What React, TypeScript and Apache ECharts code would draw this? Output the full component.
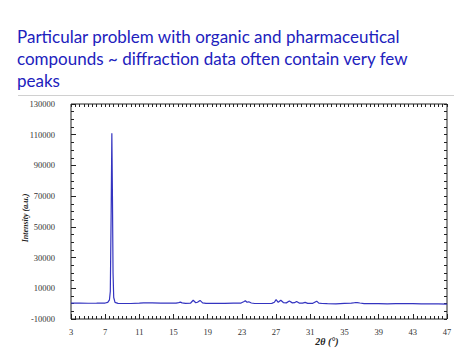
import React, { useEffect, useRef } from "react";
import * as echarts from "echarts";

const titleLines = [
  "Particular problem with organic and pharmaceutical",
  "compounds ~ diffraction data often contain very few",
  "peaks",
];

const twoTheta = [
  3, 4, 5, 6, 7, 7.3, 7.5, 7.6, 7.7, 7.78, 7.85, 7.92, 8.0, 8.15, 8.5, 9, 10, 11, 11.5, 12.5, 13.5, 14.5,
  15.3, 15.6, 15.8, 16.0, 16.4, 17.0, 17.3, 17.6, 17.8, 18.1, 18.4, 18.8, 20, 21, 22, 22.9, 23.2, 23.4,
  23.6, 23.8, 24.1, 24.5, 25.5, 26.5, 26.8, 27.0, 27.25, 27.55, 27.85, 28.2, 28.55, 28.9, 29.15, 29.4,
  29.7, 30.1, 30.4, 30.7, 31.3, 31.75, 32.0, 32.4, 33, 34, 35, 35.8, 36.2, 36.5, 36.8, 37.3, 38, 39, 40,
  41, 42, 43, 44, 45, 46, 47,
];

const intensity = [
  300, 300, 250, 300, 400, 800, 2500, 8000, 60000, 111000, 70000, 20000, 4000, 800, 200, 100, 100, 300,
  500, 500, 400, 300, 300, 700, 1000, 500, 200, 400, 2200, 600, 900, 2100, 500, 200, 200, 200, 300, 400,
  1200, 1900, 900, 1200, 400, 100, 100, 200, 900, 2600, 900, 2200, 700, 500, 1700, 500, 600, 1400, 400,
  300, 800, 200, 200, 1600, 300, 100, 0, -100, 200, 300, 600, 700, 400, 0, 100, 0, -100, 0, 100, 0,
  -200, -100, -200, -300,
];

const xLabels = [3, 7, 11, 15, 19, 23, 27, 31, 35, 39, 43, 47];
const yLabels = [-10000, 10000, 30000, 50000, 70000, 90000, 110000, 130000];

const xMinorTicks: number[] = [];
for (let v = 3; v <= 47.001; v += 0.5) xMinorTicks.push(Math.round(v * 10) / 10);
const yMinorTicks: number[] = [];
for (let v = -10000; v <= 130000; v += 5000) yMinorTicks.push(v);

export default function App() {
  const ref = useRef<HTMLDivElement>(null);
  useEffect(() => {
    if (!ref.current) return;
    const chart = echarts.init(ref.current, undefined, { renderer: "svg" });
    const axisColor = "#222";
    const labelStyle = {
      fontFamily: "Liberation Serif",
      fontSize: 8.5,
      color: "#333",
      formatter: (v: number) => String(v),
    };
    const common = {
      type: "value" as const,
      splitLine: { show: false },
      axisLine: { show: false, onZero: false },
    };
    const xBase = { ...common, min: 3, max: 47 };
    const yBase = { ...common, min: -10000, max: 130000 };
    chart.setOption({
      animation: false,
      backgroundColor: "#fff",
      grid: {
        left: 71,
        top: 104,
        width: 376,
        height: 215,
        show: true,
        borderColor: axisColor,
        borderWidth: 1,
        backgroundColor: "transparent",
      },
      xAxis: [
        {
          ...xBase,
          position: "bottom",
          axisTick: { show: true, inside: true, length: 5, customValues: xLabels, lineStyle: { color: axisColor } },
          axisLabel: { show: true, customValues: xLabels, margin: 8, ...labelStyle },
        },
        {
          ...xBase,
          position: "bottom",
          axisTick: { show: true, inside: true, length: 3, customValues: xMinorTicks, lineStyle: { color: axisColor } },
          axisLabel: { show: false },
        },
        {
          ...xBase,
          position: "top",
          axisTick: { show: true, inside: true, length: 3, customValues: xMinorTicks, lineStyle: { color: axisColor } },
          axisLabel: { show: false },
        },
      ],
      yAxis: [
        {
          ...yBase,
          position: "left",
          axisTick: { show: true, inside: true, length: 5, customValues: yLabels, lineStyle: { color: axisColor } },
          axisLabel: { show: true, customValues: yLabels, margin: 16, ...labelStyle },
        },
        {
          ...yBase,
          position: "left",
          axisTick: { show: true, inside: true, length: 3, customValues: yMinorTicks, lineStyle: { color: axisColor } },
          axisLabel: { show: false },
        },
        {
          ...yBase,
          position: "right",
          axisTick: { show: true, inside: true, length: 3, customValues: yMinorTicks, lineStyle: { color: axisColor } },
          axisLabel: { show: false },
        },
      ],
      series: [
        {
          type: "line",
          xAxisIndex: 0,
          yAxisIndex: 0,
          data: twoTheta.map((t, i) => [t, intensity[i]]),
          showSymbol: false,
          symbol: "none",
          lineStyle: { color: "#3434c0", width: 1.2 },
        },
      ],
      graphic: [
        ...titleLines.map((line, i) => ({
          type: "text",
          left: 17,
          top: 28 + i * 22,
          style: {
            text: line,
            font: "17px Lato",
            fill: "#2121bd",
          },
        })),
        {
          type: "line",
          shape: { x1: 18, y1: 95.5, x2: 454, y2: 95.5 },
          style: { stroke: "#d0d0d0", lineWidth: 1 },
        },
        {
          type: "text",
          x: 25,
          y: 218,
          rotation: Math.PI / 2,
          style: {
            text: "Intensity (a.u.)",
            font: "italic bold 8px 'Liberation Serif'",
            fill: "#222",
            align: "center",
            verticalAlign: "middle",
          },
        },
        {
          type: "text",
          x: 327,
          y: 341,
          style: {
            text: "2θ (°)",
            font: "italic bold 10px 'Liberation Serif'",
            fill: "#222",
            align: "center",
            verticalAlign: "middle",
          },
        },
      ],
    });
    return () => chart.dispose();
  }, []);
  return (
    <div
      ref={ref}
      style={{ position: "fixed", left: 0, top: 0, width: 474, height: 355, background: "#fff" }}
    />
  );
}
